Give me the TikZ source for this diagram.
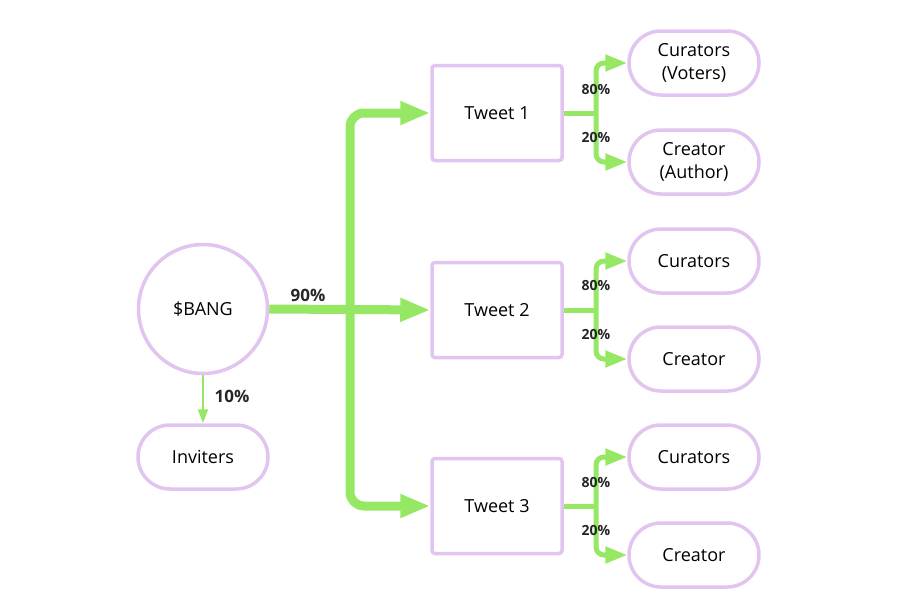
\documentclass[tikz,border=0pt]{standalone}
\usepackage{fontspec}
\setmainfont{Open Sans}
\usetikzlibrary{arrows.meta}
\definecolor{lilac}{RGB}{226,196,240}
\definecolor{lgreen}{RGB}{150,232,100}
\begin{document}
\begin{tikzpicture}[x=1pt,y=-1pt,
  box/.style={draw=lilac,line width=3.5pt,rounded corners=3pt,minimum width=130pt,minimum height=95pt,inner sep=0pt,font=\fontsize{18}{23}\selectfont,align=center},
  pill/.style={draw=lilac,line width=3.5pt,rounded corners=32pt,minimum width=130pt,minimum height=64pt,inner sep=0pt,font=\fontsize{18}{23}\selectfont,align=center},
  circ/.style={draw=lilac,line width=3.5pt,circle,minimum size=129pt,inner sep=0pt,font=\fontsize{18}{23}\selectfont},
  mainline/.style={draw=lgreen,line width=9pt,rounded corners=14pt},
  mainarrow/.style={mainline,-{Triangle[length=30pt,width=22pt]}},
  branch/.style={draw=lgreen,line width=5pt,rounded corners=8pt},
  brarrow/.style={branch,-{Triangle[length=22pt,width=16pt]}},
  thinarrow/.style={draw=lgreen,line width=2pt,-{Triangle[length=14pt,width=10pt]}},
  pct/.style={font=\bfseries\fontsize{17}{20}\selectfont,text=black!85},
  spct/.style={font=\bfseries\fontsize{14}{17}\selectfont,text=black!85}]
\useasboundingbox (0,0) rectangle (900,613);
\node[circ] (bang) at (203,309) {\$BANG};
\node[pill] (inv) at (203,457) {Inviters};
\node[box] (tw1) at (497,113) {Tweet 1};
\node[box] (tw2) at (497,310) {Tweet 2};
\node[box] (tw3) at (497,506) {Tweet 3};
\node[pill] (cur1) at (694,63) {Curators\\(Voters)};
\node[pill] (cre1) at (694,162) {Creator\\(Author)};
\node[pill] (cur2) at (694,261) {Curators};
\node[pill] (cre2) at (694,359) {Creator};
\node[pill] (cur3) at (694,457) {Curators};
\node[pill] (cre3) at (694,555) {Creator};
\coordinate (j) at (350,310);
\coordinate (b1) at (596,113);
\coordinate (b2) at (596,310);
\coordinate (b3) at (596,506);
% main flow
\draw[mainarrow] (j) |- (tw1.west);
\draw[mainarrow] (j) |- (tw3.west);
\draw[mainarrow] (bang.east) -- (tw2.west);
\node[pct] (p90) at (308,295) {90\%};
% inviters
\draw[thinarrow] (bang.south) -- (inv.north);
\node[pct] (p10) at (232,396) {10\%};
% branches
\foreach \i in {1,2,3}{
  \draw[branch] (tw\i.east) -- (b\i);
  \draw[brarrow] (b\i) |- (cur\i.west);
  \draw[brarrow] (b\i) |- (cre\i.west);
}
\node[spct] at (596,89) {80\%};
\node[spct] at (596,137) {20\%};
\node[spct] at (596,285) {80\%};
\node[spct] at (596,334) {20\%};
\node[spct] at (596,482) {80\%};
\node[spct] at (596,530) {20\%};
\end{tikzpicture}
\end{document}
